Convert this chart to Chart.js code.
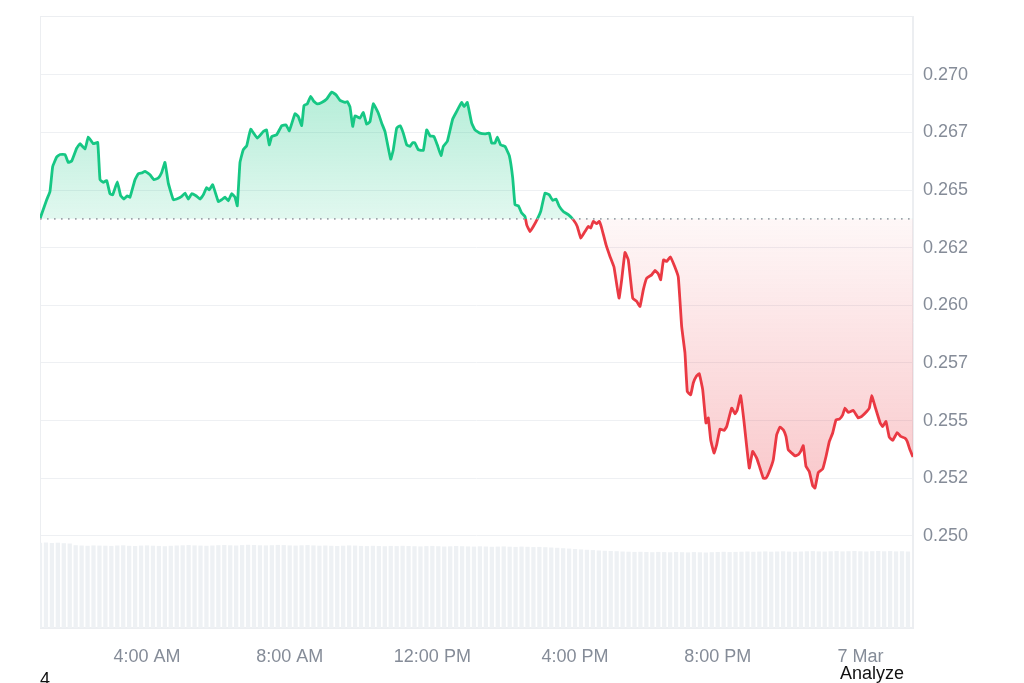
<!DOCTYPE html>
<html>
<head>
<meta charset="utf-8">
<script src="https://cdn.jsdelivr.net/npm/chart.js@4.4.1/dist/chart.umd.min.js"></script>
<style>
  html, body { margin: 0; padding: 0; background: #ffffff; }
  #wrap { position: relative; width: 1024px; height: 683px; overflow: hidden; }
  canvas { position: absolute; left: 0; top: 0; }
  .txt { position: absolute; font-family: "Liberation Sans", Arial, sans-serif; font-size: 18px; line-height: 18px; color: #111; }
</style>
</head>
<body>
<div id="wrap">
  <canvas id="c" width="1024" height="683" style="width:1024px;height:683px"></canvas>
  <div class="txt" style="left:40px; top:670px;">4</div>
  <div class="txt" style="left:840px; top:664px;">Analyze</div>
</div>
<script>
// ---- data (hours since midnight of 6 Mar, price in USD) ----
const BASELINE = 0.26375;
const timeHours = [1.000,1.188,1.280,1.356,1.468,1.561,1.701,1.793,1.889,2.029,2.121,2.262,2.354,2.494,2.618,2.682,2.775,2.870,2.962,3.038,3.167,3.262,3.355,3.447,3.523,3.663,3.756,3.851,3.944,4.084,4.196,4.317,4.412,4.504,4.597,4.737,4.832,4.973,5.065,5.158,5.253,5.373,5.486,5.578,5.673,5.746,5.842,5.999,6.094,6.187,6.279,6.374,6.467,6.531,6.607,6.699,6.795,6.907,7.092,7.260,7.350,7.428,7.496,7.636,7.776,7.897,7.989,8.149,8.241,8.337,8.401,8.494,8.589,8.682,8.774,8.897,9.038,9.178,9.298,9.411,9.551,9.615,9.691,9.767,9.831,9.971,10.064,10.159,10.252,10.344,10.484,10.580,10.672,10.832,10.905,11.000,11.093,11.185,11.281,11.373,11.449,11.513,11.606,11.746,11.841,11.934,12.046,12.138,12.242,12.306,12.419,12.570,12.682,12.822,12.887,12.979,13.103,13.195,13.335,13.476,13.596,13.663,13.756,13.820,13.916,14.036,14.157,14.252,14.317,14.409,14.504,14.597,14.645,14.737,14.830,14.942,15.037,15.158,15.278,15.373,15.466,15.559,15.671,15.811,15.951,16.063,16.159,16.279,16.372,16.439,16.512,16.607,16.680,16.747,16.868,16.980,17.092,17.233,17.308,17.401,17.493,17.617,17.729,17.821,17.914,18.009,18.149,18.242,18.334,18.401,18.480,18.570,18.670,18.788,18.895,18.990,19.082,19.147,19.242,19.315,19.410,19.483,19.579,19.671,19.736,19.803,19.896,19.971,20.064,20.176,20.252,20.392,20.484,20.549,20.644,20.737,20.885,20.980,21.093,21.185,21.278,21.353,21.446,21.558,21.653,21.746,21.838,21.914,21.978,22.073,22.166,22.259,22.326,22.399,22.475,22.567,22.663,22.728,22.820,22.944,23.036,23.128,23.223,23.316,23.409,23.504,23.568,23.661,23.801,23.941,24.037,24.177,24.250,24.318,24.410,24.549,24.625,24.717,24.810,24.905,25.034,25.129,25.250,25.314,25.390,25.475];
const prices = [0.26375,0.26458,0.26494,0.26602,0.26643,0.26654,0.26654,0.26620,0.26626,0.26682,0.26701,0.26678,0.26730,0.26701,0.26706,0.26545,0.26533,0.26541,0.26484,0.26479,0.26535,0.26475,0.26461,0.26475,0.26469,0.26545,0.26571,0.26574,0.26581,0.26566,0.26545,0.26552,0.26576,0.26620,0.26530,0.26458,0.26461,0.26472,0.26487,0.26461,0.26484,0.26475,0.26461,0.26479,0.26511,0.26501,0.26523,0.26450,0.26458,0.26469,0.26453,0.26484,0.26469,0.26432,0.26620,0.26675,0.26692,0.26764,0.26725,0.26754,0.26761,0.26696,0.26732,0.26740,0.26779,0.26783,0.26757,0.26831,0.26819,0.26780,0.26866,0.26874,0.26906,0.26884,0.26874,0.26880,0.26895,0.26925,0.26913,0.26889,0.26880,0.26884,0.26860,0.26776,0.26822,0.26812,0.26836,0.26786,0.26797,0.26874,0.26834,0.26790,0.26754,0.26634,0.26675,0.26769,0.26779,0.26747,0.26696,0.26689,0.26706,0.26704,0.26675,0.26672,0.26761,0.26735,0.26732,0.26696,0.26649,0.26689,0.26711,0.26808,0.26841,0.26880,0.26862,0.26880,0.26790,0.26761,0.26747,0.26744,0.26747,0.26704,0.26704,0.26730,0.26696,0.26689,0.26649,0.26553,0.26436,0.26432,0.26400,0.26385,0.26349,0.26320,0.26342,0.26374,0.26407,0.26487,0.26479,0.26455,0.26461,0.26429,0.26407,0.26393,0.26371,0.26342,0.26292,0.26320,0.26342,0.26335,0.26364,0.26354,0.26364,0.26335,0.26263,0.26212,0.26166,0.26031,0.26111,0.26229,0.26197,0.26031,0.26017,0.25995,0.26067,0.26118,0.26132,0.26151,0.26137,0.26111,0.26197,0.26190,0.26210,0.26170,0.26122,0.25907,0.25793,0.25626,0.25612,0.25663,0.25694,0.25703,0.25634,0.25489,0.25511,0.25417,0.25359,0.25395,0.25463,0.25457,0.25474,0.25554,0.25529,0.25547,0.25608,0.25496,0.25294,0.25366,0.25337,0.25294,0.25250,0.25250,0.25279,0.25330,0.25438,0.25472,0.25460,0.25431,0.25373,0.25359,0.25347,0.25352,0.25366,0.25391,0.25301,0.25279,0.25217,0.25207,0.25275,0.25290,0.25344,0.25409,0.25446,0.25503,0.25506,0.25525,0.25554,0.25535,0.25544,0.25511,0.25518,0.25539,0.25554,0.25608,0.25561,0.25492,0.25474,0.25496,0.25428,0.25414,0.25448,0.25431,0.25424,0.25409,0.25373,0.25342];
// volume per 10-minute bar (thousands), first bar at 1:00
const VOLUME_START_HOUR = 1.0;
const VOLUME_STEP_HOURS = 1 / 6;
const volumeK = [852,855,850,853,848,845,
  828,825,822,826,824,823,821,825,827,822,820,824,826,823,821,818,822,825,827,829,826,824,822,825,
  828,830,827,825,829,832,830,827,826,828,831,829,826,824,827,829,826,823,825,822,820,823,826,824,821,819,822,820,818,821,
  819,822,820,818,816,819,821,818,815,817,820,818,816,814,817,815,812,814,816,813,811,814,812,809,811,808,805,802,798,794,790,786,782,779,
  775,772,770,768,765,763,761,762,760,758,761,759,757,760,758,756,759,757,755,758,760,762,759,761,763,765,762,764,766,763,765,767,764,762,765,767,769,766,764,767,769,766,768,770,767,765,768,770,767,769,766,768,765];
const xTickHours = [4, 8, 12, 16, 20, 24];
const xTickLabels = ["4:00 AM", "8:00 AM", "12:00 PM", "4:00 PM", "8:00 PM", "7 Mar"];
const yTickValues = [0.2500, 0.2525, 0.2550, 0.2575, 0.2600, 0.2625, 0.2650, 0.2675, 0.2700];
const yTickLabels = ["0.250", "0.252", "0.255", "0.257", "0.260", "0.262", "0.265", "0.267", "0.270"];

// ---- build library structures ----
const pricePoints = timeHours.map((h, i) => ({ x: h, y: prices[i] }));
const volumePoints = volumeK.map((v, i) => ({ x: VOLUME_START_HOUR + i * VOLUME_STEP_HOURS, y: v }));
const xMin = timeHours[0], xMax = timeHours[timeHours.length - 1];
const baselinePoints = [{ x: xMin, y: BASELINE }, { x: xMax, y: BASELINE }];

const GREEN = '#16c784', RED = '#ea3943';
const FONT = { family: '"Liberation Sans", Arial, sans-serif', size: 18 };
const TICK_COLOR = '#858c98';
const GRID_COLOR = '#eef0f3';

function splitFraction(chart) {
  const a = chart.chartArea, y = chart.scales.y;
  const p = y.getPixelForValue(BASELINE);
  return Math.min(1, Math.max(0, (p - a.top) / (a.bottom - a.top)));
}
function lineColor(ctx) {
  const chart = ctx.chart;
  if (!chart.chartArea || !chart.scales.y) return GREEN;
  const a = chart.chartArea, f = splitFraction(chart);
  const g = chart.ctx.createLinearGradient(0, a.top, 0, a.bottom);
  g.addColorStop(0, GREEN); g.addColorStop(f, GREEN);
  g.addColorStop(f, RED); g.addColorStop(1, RED);
  return g;
}
function fillColor(ctx) {
  const chart = ctx.chart;
  if (!chart.chartArea || !chart.scales.y) return 'rgba(22,199,132,0.2)';
  const a = chart.chartArea, f = splitFraction(chart);
  const g = chart.ctx.createLinearGradient(0, a.top, 0, a.bottom);
  g.addColorStop(0, 'rgba(22,199,132,0.36)');
  g.addColorStop(f * 0.35, 'rgba(22,199,132,0.32)');
  g.addColorStop(f, 'rgba(22,199,132,0.13)');
  g.addColorStop(Math.min(1, f + 0.0005), 'rgba(234,57,67,0.04)');
  g.addColorStop(0.76, 'rgba(234,57,67,0.27)');
  g.addColorStop(1, 'rgba(234,57,67,0.32)');
  return g;
}

const frame = {
  id: 'frame',
  beforeDatasetsDraw(chart) {
    const { ctx, chartArea: a } = chart;
    ctx.save();
    ctx.strokeStyle = '#eceef1';
    ctx.lineWidth = 1;
    ctx.strokeRect(Math.round(a.left) + 0.5, Math.round(a.top) + 0.5, Math.round(a.right - a.left) - 1, Math.round(a.bottom - a.top) - 1);
    ctx.restore();
  }
};

new Chart(document.getElementById('c'), {
  type: 'line',
  data: {
    datasets: [
      {
        type: 'line',
        data: baselinePoints,
        borderColor: '#9ea3ab',
        borderWidth: 1.6,
        borderDash: [1.6, 5.4],
        pointRadius: 0,
        fill: false,
        order: 0,
        yAxisID: 'y'
      },
      {
        type: 'line',
        data: pricePoints,
        borderColor: lineColor,
        backgroundColor: fillColor,
        borderWidth: 2.8,
        tension: 0.1,
        pointRadius: 0,
        fill: { value: BASELINE },
        order: 1,
        yAxisID: 'y'
      },
      {
        type: 'bar',
        data: volumePoints,
        backgroundColor: '#eef1f4',
        borderWidth: 0,
        barPercentage: 0.72,
        categoryPercentage: 1,
        order: 2,
        yAxisID: 'yv'
      }
    ]
  },
  options: {
    responsive: false,
    devicePixelRatio: 1,
    animation: false,
    events: [],
    layout: { padding: { left: 40, top: 16, right: 0, bottom: 0 } },
    plugins: { legend: { display: false }, tooltip: { enabled: false } },
    scales: {
      x: {
        type: 'linear',
        min: xMin,
        max: xMax,
        offset: false,
        afterBuildTicks(s) { s.ticks = xTickHours.map(v => ({ value: v })); },
        afterFit(s) { s.height = 55; s.paddingLeft = 0; s.paddingRight = 0; },
        ticks: {
          autoSkip: false, maxRotation: 0, padding: 18,
          color: TICK_COLOR, font: FONT,
          callback: (v) => xTickLabels[xTickHours.indexOf(v)]
        },
        grid: { display: false, drawTicks: false },
        border: { display: true, color: '#eceef1' }
      },
      y: {
        type: 'linear',
        position: 'right',
        min: 0.246,
        max: 0.27255,
        afterBuildTicks(s) { s.ticks = yTickValues.map(v => ({ value: v })); },
        afterFit(s) { s.width = 111; s.paddingTop = 0; s.paddingBottom = 0; },
        ticks: {
          padding: 10, color: TICK_COLOR, font: FONT,
          callback: (v, i) => yTickLabels[i]
        },
        grid: { color: GRID_COLOR, lineWidth: 1, drawTicks: false },
        border: { display: true, color: '#eceef1' }
      },
      yv: {
        type: 'linear',
        display: false,
        min: 0,
        max: 6120
      }
    }
  },
  plugins: [frame]
});
</script>
</body>
</html>
